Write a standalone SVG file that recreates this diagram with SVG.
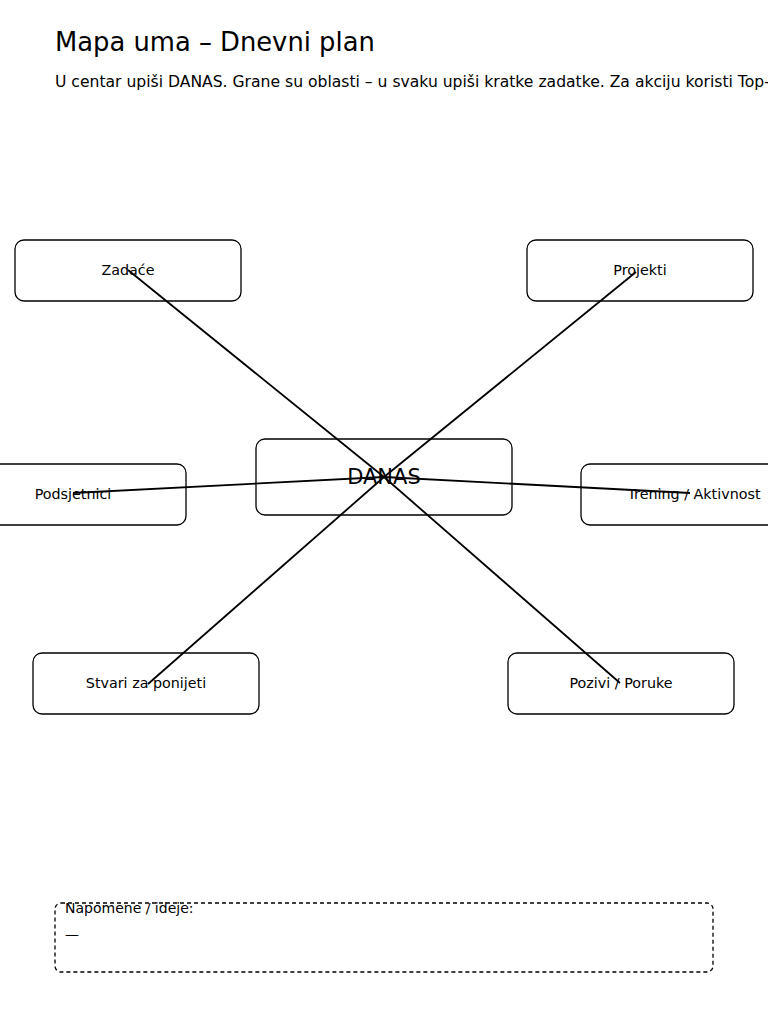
<svg xmlns="http://www.w3.org/2000/svg" width="768" height="1024" viewBox="0 0 768 1024">
<style>
text{font-family:"DejaVu Sans",sans-serif;fill:#000}
.node{fill:#fff;stroke:#000;stroke-width:1.3}
.lbl{font-size:14.3px;text-anchor:middle}
.edge{stroke:#000;stroke-width:1.8;fill:none}
</style>
<rect width="768" height="1024" fill="#fff"/>
<text x="55" y="51" font-size="25.8">Mapa uma – Dnevni plan</text>
<text x="55" y="87" font-size="15.6">U centar upiši DANAS. Grane su oblasti – u svaku upiši kratke zadatke. Za akciju koristi Top-3.</text>
<g id="n-center"><rect class="node" x="256" y="439" width="256" height="76" rx="9"/><text x="384" y="484" font-size="21" text-anchor="middle">DANAS</text></g>
<g id="n-zadace"><rect class="node" x="15" y="240" width="226" height="61" rx="9"/><text class="lbl" x="128" y="275">Zadaće</text></g>
<g id="n-projekti"><rect class="node" x="527" y="240" width="226" height="61" rx="9"/><text class="lbl" x="640" y="275">Projekti</text></g>
<g id="n-podsjetnici"><rect class="node" x="-40" y="464" width="226" height="61" rx="9"/><text class="lbl" x="73" y="499">Podsjetnici</text></g>
<g id="n-trening"><rect class="node" x="581" y="464" width="226" height="61" rx="9"/><text class="lbl" x="694" y="499">Trening / Aktivnost</text></g>
<g id="n-stvari"><rect class="node" x="33" y="653" width="226" height="61" rx="9"/><text class="lbl" x="146" y="688">Stvari za ponijeti</text></g>
<g id="n-pozivi"><rect class="node" x="508" y="653" width="226" height="61" rx="9"/><text class="lbl" x="621" y="688">Pozivi / Poruke</text></g>
<g id="connectors">
<line class="edge" x1="384" y1="477" x2="128" y2="270"/>
<line class="edge" x1="384" y1="477" x2="636" y2="272"/>
<line class="edge" x1="384" y1="477" x2="73" y2="493"/>
<line class="edge" x1="384" y1="477" x2="690" y2="493"/>
<line class="edge" x1="384" y1="477" x2="148" y2="684"/>
<line class="edge" x1="384" y1="477" x2="620" y2="683"/>
</g>
<g id="notes">
<rect x="55" y="903" width="658" height="69" rx="6" fill="none" stroke="#000" stroke-width="1.3" stroke-dasharray="4,3"/>
<text x="65" y="913" font-size="14">Napomene / ideje:</text>
<text x="65" y="939" font-size="14">—</text>
</g>
</svg>
